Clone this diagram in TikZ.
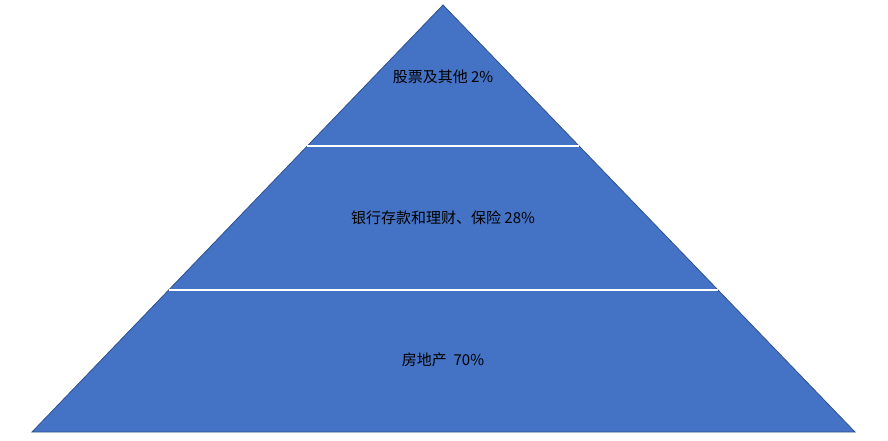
\documentclass[tikz,border=0pt]{standalone}
\usepackage{fontspec}
\newfontfamily\cjk{Noto Sans CJK SC}
\definecolor{pyr}{RGB}{68,114,196}
\definecolor{pyredge}{RGB}{47,82,143}
\begin{document}
\begin{tikzpicture}[x=1pt,y=-1pt,
  sep/.style={draw=white,line width=1.5pt},
  lbl/.style={font=\cjk\fontsize{15}{18}\selectfont,text=black}]
\useasboundingbox (0,0) rectangle (888,441);
\coordinate (apex) at (443,5);
\coordinate (l1) at (307,146); \coordinate (r1) at (579,146);
\coordinate (l2) at (169,290); \coordinate (r2) at (718,290);
\coordinate (l3) at (32,432); \coordinate (r3) at (855,432);
\fill[pyr] (apex) -- (l3) -- (r3) -- cycle;
\draw[pyredge,line width=0.8pt] (apex) -- (l3) -- (r3) -- cycle;
\draw[sep] (l1) -- (r1);
\draw[sep] (l2) -- (r2);
\node[lbl] (t1) at (443,77) {股票及其他 2\%};
\node[lbl] (t2) at (443,218) {银行存款和理财、保险 28\%};
\node[lbl] (t3) at (443,360) {房地产\ \ 70\%};
\end{tikzpicture}
\end{document}
